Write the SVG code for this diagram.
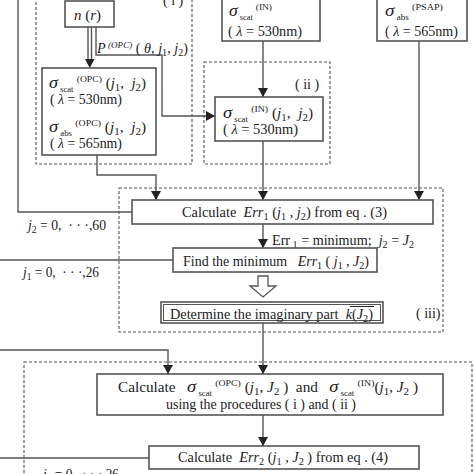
<svg xmlns="http://www.w3.org/2000/svg" width="474" height="474" viewBox="0 0 474 474">
<defs>
<marker id="ah" markerWidth="9" markerHeight="10" refX="9" refY="5" orient="auto" markerUnits="userSpaceOnUse">
<path d="M0,0 L9,5 L0,10 Z" fill="#222"/>
</marker>
<style>
.box{fill:#fff;stroke:#555;stroke-width:1.6}
.dash{fill:none;stroke:#555;stroke-width:1.1;stroke-dasharray:3 2}
.ln{fill:none;stroke:#555;stroke-width:1.4}
text{font-family:"Liberation Serif","Times New Roman",serif;font-size:14px;fill:#222;white-space:pre}
.it{font-style:italic}
.sg{font-style:italic;font-size:17px}
.sb{font-size:8px}
.sp{font-size:9px}
.ix{font-size:10px}
</style>
</defs>
<rect width="474" height="474" fill="#fff"/>

<g id="groups">
<rect class="dash" x="36" y="-10" width="156" height="174"/>
<text x="163" y="5">( i )</text>
<rect class="dash" x="204" y="62" width="126" height="102"/>
<text x="295" y="89">( ii )</text>
<rect class="dash" x="119" y="188" width="324" height="144"/>
<text x="416" y="318">( iii)</text>
<rect class="dash" x="24" y="362" width="448" height="130"/>
</g>

<g id="connectors">
<line class="ln" x1="88" y1="27" x2="88" y2="60"/>
<line class="ln" x1="91.5" y1="27" x2="91.5" y2="60"/>
<path d="M85,59 L94.5,59 L89.75,68 Z" fill="#222"/>
<path class="ln" d="M96,27 V55 H162 V116 H215" marker-end="url(#ah)"/>
<path class="ln" d="M97,155 V175 H156 V200" marker-end="url(#ah)"/>
<path class="ln" d="M18,-2 V212 H132"/>
<path class="ln" d="M0,260 H173"/>
<path class="ln" d="M263,41 V97" marker-end="url(#ah)"/>
<path class="ln" d="M263,141 V200" marker-end="url(#ah)"/>
<path class="ln" d="M419,41 V200" marker-end="url(#ah)"/>
<path class="ln" d="M263,224 V248" marker-end="url(#ah)"/>
<path class="ln" d="M263,323 V374" marker-end="url(#ah)"/>
<path class="ln" d="M0,350 H168 V374" marker-end="url(#ah)"/>
<path class="ln" d="M263,415 V446" marker-end="url(#ah)"/>
<path class="ln" d="M0,458 H149"/>
<path d="M258,276 H268 V286 H276 L263,297 L250,286 H258 Z" fill="#fff" stroke="#555" stroke-width="1.3"/>
</g>

<g id="labels">
<text x="97" y="53" textLength="91" lengthAdjust="spacingAndGlyphs"><tspan class="it">P</tspan><tspan class="sp it" dy="-5"> (OPC)</tspan><tspan dy="5"> ( </tspan><tspan class="it">θ</tspan>, <tspan class="it">j</tspan><tspan class="ix" dy="3">1</tspan><tspan dy="-3">, </tspan><tspan class="it">j</tspan><tspan class="ix" dy="3">2</tspan><tspan dy="-3">)</tspan></text>
<text x="28" y="230" textLength="78" lengthAdjust="spacingAndGlyphs"><tspan class="it">j</tspan><tspan class="ix" dy="3">2</tspan><tspan dy="-3"> = 0,  · · ·,60</tspan></text>
<text x="23" y="277" textLength="76" lengthAdjust="spacingAndGlyphs"><tspan class="it">j</tspan><tspan class="ix" dy="3">1</tspan><tspan dy="-3"> = 0,  · · ·,26</tspan></text>
<text x="43" y="479" textLength="76" lengthAdjust="spacingAndGlyphs"><tspan class="it">j</tspan><tspan class="ix" dy="3">1</tspan><tspan dy="-3"> = 0,  · · ·,26</tspan></text>
<text x="272" y="245" textLength="142" lengthAdjust="spacingAndGlyphs">Err<tspan class="ix" dy="3"> 1</tspan><tspan dy="-3"> = minimum;  </tspan><tspan class="it">j</tspan><tspan class="ix" dy="3">2</tspan><tspan dy="-3"> = </tspan><tspan class="it">J</tspan><tspan class="ix" dy="3">2</tspan></text>
</g>

<g id="node-n">
<rect class="box" x="65" y="1" width="49" height="26"/>
<text x="74" y="20" textLength="27" lengthAdjust="spacingAndGlyphs"><tspan class="it">n</tspan> (<tspan class="it">r</tspan>)</text>
</g>

<g id="node-opc">
<rect class="box" x="42" y="68" width="114" height="87"/>
<text x="49" y="88" textLength="97" lengthAdjust="spacingAndGlyphs"><tspan class="sg">σ</tspan><tspan class="sb" dx="2" dy="4">scat</tspan><tspan class="sp" dx="3" dy="-10">(OPC)</tspan><tspan dy="6"> (</tspan><tspan class="it">j</tspan><tspan class="ix" dy="3">1</tspan><tspan dy="-3">,  </tspan><tspan class="it">j</tspan><tspan class="ix" dy="3">2</tspan><tspan dy="-3">)</tspan></text>
<text x="50" y="104" textLength="72" lengthAdjust="spacingAndGlyphs">( <tspan class="it">λ</tspan> = 530nm)</text>
<text x="49" y="132" textLength="97" lengthAdjust="spacingAndGlyphs"><tspan class="sg">σ</tspan><tspan class="sb" dx="2" dy="4">abs</tspan><tspan class="sp" dx="3" dy="-10">(OPC)</tspan><tspan dy="6"> (</tspan><tspan class="it">j</tspan><tspan class="ix" dy="3">1</tspan><tspan dy="-3">,  </tspan><tspan class="it">j</tspan><tspan class="ix" dy="3">2</tspan><tspan dy="-3">)</tspan></text>
<text x="50" y="148" textLength="72" lengthAdjust="spacingAndGlyphs">( <tspan class="it">λ</tspan> = 565nm)</text>
</g>

<g id="node-in-top">
<rect class="box" x="222" y="-5" width="98" height="46"/>
<text x="229" y="16" textLength="43" lengthAdjust="spacingAndGlyphs"><tspan class="sg">σ</tspan><tspan class="sb" dx="2" dy="4">scat</tspan><tspan class="sp" dx="3" dy="-10">(IN)</tspan></text>
<text x="228" y="36" textLength="74" lengthAdjust="spacingAndGlyphs">( <tspan class="it">λ</tspan> = 530nm)</text>
</g>

<g id="node-psap">
<rect class="box" x="377" y="-5" width="90" height="46"/>
<text x="385" y="16" textLength="58" lengthAdjust="spacingAndGlyphs"><tspan class="sg">σ</tspan><tspan class="sb" dx="2" dy="4">abs</tspan><tspan class="sp" dx="3" dy="-10">(PSAP)</tspan></text>
<text x="385" y="36" textLength="73" lengthAdjust="spacingAndGlyphs">( <tspan class="it">λ</tspan> = 565nm)</text>
</g>

<g id="node-in">
<rect class="box" x="215" y="97" width="108" height="44"/>
<text x="223" y="118" textLength="90" lengthAdjust="spacingAndGlyphs"><tspan class="sg">σ</tspan><tspan class="sb" dx="2" dy="4">scat</tspan><tspan class="sp" dx="3" dy="-10">(IN)</tspan><tspan dy="6"> (</tspan><tspan class="it">j</tspan><tspan class="ix" dy="3">1</tspan><tspan dy="-3">,  </tspan><tspan class="it">j</tspan><tspan class="ix" dy="3">2</tspan><tspan dy="-3">)</tspan></text>
<text x="223" y="134" textLength="75" lengthAdjust="spacingAndGlyphs">( <tspan class="it">λ</tspan> = 530nm)</text>
</g>

<g id="node-err1">
<rect class="box" x="132" y="200" width="301" height="24"/>
<text x="182" y="217" textLength="205" lengthAdjust="spacingAndGlyphs">Calculate  <tspan class="it">Err</tspan><tspan class="ix" dy="3">1</tspan><tspan dy="-3"> (</tspan><tspan class="it">j</tspan><tspan class="ix" dy="3">1</tspan><tspan dy="-3"> , </tspan><tspan class="it">j</tspan><tspan class="ix" dy="3">2</tspan><tspan dy="-3">) from eq . (3)</tspan></text>
</g>

<g id="node-find">
<rect class="box" x="173" y="248" width="204" height="24"/>
<text x="183" y="266" textLength="186" lengthAdjust="spacingAndGlyphs">Find the minimum   <tspan class="it">Err</tspan><tspan class="ix" dy="3">1</tspan><tspan dy="-3"> ( </tspan><tspan class="it">j</tspan><tspan class="ix" dy="3">1</tspan><tspan dy="-3"> , </tspan><tspan class="it">J</tspan><tspan class="ix" dy="3">2</tspan><tspan dy="-3">)</tspan></text>
</g>

<g id="node-determine">
<rect class="box" x="161" y="302" width="222" height="21"/>
<rect x="163.5" y="304.5" width="217" height="16" fill="none" stroke="#555" stroke-width="1"/>
<text x="170" y="318.5" textLength="203" lengthAdjust="spacingAndGlyphs">Determine the imaginary part  <tspan class="it">k</tspan>(<tspan class="it">J</tspan><tspan class="ix" dy="3">2</tspan><tspan dy="-3">)</tspan></text>
<line x1="350" y1="306.5" x2="374" y2="306.5" stroke="#222" stroke-width="1"/>
</g>

<g id="node-calc-sigma">
<rect class="box" x="97" y="374" width="346" height="41"/>
<text x="118" y="392" textLength="300" lengthAdjust="spacingAndGlyphs">Calculate   <tspan class="sg">σ</tspan><tspan class="sb" dx="2" dy="4">scat</tspan><tspan class="sp" dx="3" dy="-10">(OPC)</tspan><tspan dy="6"> (</tspan><tspan class="it">j</tspan><tspan class="ix" dy="3">1</tspan><tspan dy="-3">, </tspan><tspan class="it">J</tspan><tspan class="ix" dy="3">2</tspan><tspan dy="-3"> )  and   </tspan><tspan class="sg">σ</tspan><tspan class="sb" dx="2" dy="4">scat</tspan><tspan class="sp" dx="3" dy="-10">(IN)</tspan><tspan dy="6">(</tspan><tspan class="it">j</tspan><tspan class="ix" dy="3">1</tspan><tspan dy="-3">, </tspan><tspan class="it">J</tspan><tspan class="ix" dy="3">2</tspan><tspan dy="-3"> )</tspan></text>
<text x="166" y="409" textLength="190" lengthAdjust="spacingAndGlyphs">using the procedures ( i ) and ( ii )</text>
</g>

<g id="node-err2">
<rect class="box" x="149" y="446" width="270" height="23"/>
<text x="178" y="462" textLength="210" lengthAdjust="spacingAndGlyphs">Calculate  <tspan class="it">Err</tspan><tspan class="ix" dy="3">2</tspan><tspan dy="-3"> (</tspan><tspan class="it">j</tspan><tspan class="ix" dy="3">1</tspan><tspan dy="-3"> , </tspan><tspan class="it">J</tspan><tspan class="ix" dy="3">2</tspan><tspan dy="-3"> ) from eq . (4)</tspan></text>
</g>
</svg>
